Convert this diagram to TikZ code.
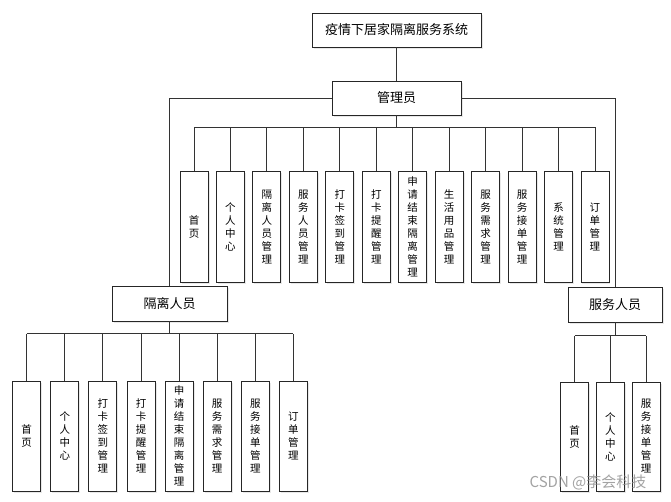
\documentclass[tikz,border=0pt]{standalone}
\usepackage{fontspec}
\newfontfamily\cjk{Noto Sans CJK SC}
\usetikzlibrary{shadows}
\begin{document}
\begin{tikzpicture}[x=1pt,y=-1pt,
  box/.style={draw=black!85,line width=0.9pt,fill=white,inner sep=0pt,
    drop shadow={opacity=0.18,shadow xshift=1.5pt,shadow yshift=-1.5pt}},
  hbox/.style={box,font={\cjk\fontsize{13}{15}\selectfont}},
  vbox/.style={box,font={\cjk\fontsize{10.5}{13}\selectfont},align=center,
    minimum width=28pt,text width=28pt},
  link/.style={draw=black!80,line width=0.9pt}]
\useasboundingbox (0,0) rectangle (671,501);
\fill[white] (0,0) rectangle (671,501);

% top
\node[hbox,minimum width=169pt,minimum height=34pt] (root) at (396.5,30) {疫情下居家隔离服务系统};
\node[hbox,minimum width=129pt,minimum height=34pt] (adm) at (396.5,98) {管理员};
\node[hbox,minimum width=115pt,minimum height=35pt] (iso) at (169.5,303.5) {隔离人员};
\node[hbox,minimum width=94pt,minimum height=35pt] (srv) at (615,304.5) {服务人员};

\draw[link] (root) -- (adm);
\draw[link] (adm.west) -| (iso.north);
\draw[link] (adm.east) -| (srv.north);

% admin children
\foreach \i/\t in {0/{首\\页},1/{个\\人\\中\\心},2/{隔\\离\\人\\员\\管\\理},3/{服\\务\\人\\员\\管\\理},
  4/{打\\卡\\签\\到\\管\\理},5/{打\\卡\\提\\醒\\管\\理},6/{申\\请\\结\\束\\隔\\离\\管\\理},
  7/{生\\活\\用\\品\\管\\理},8/{服\\务\\需\\求\\管\\理},9/{服\\务\\接\\单\\管\\理},
  10/{系\\统\\管\\理},11/{订\\单\\管\\理}}{
  \node[vbox,minimum height=111pt] (a\i) at ({194+36.45*\i},227) {\t};
  \draw[link] (a\i.north) -- ++(0,-44) coordinate (ab\i);
}
\draw[link] (ab0) -- (ab11);
\draw[link] (adm.south) -- (adm.south |- ab0);

% isolation children
\foreach \i/\t in {0/{首\\页},1/{个\\人\\中\\心},2/{打\\卡\\签\\到\\管\\理},3/{打\\卡\\提\\醒\\管\\理},
  4/{申\\请\\结\\束\\隔\\离\\管\\理},5/{服\\务\\需\\求\\管\\理},6/{服\\务\\接\\单\\管\\理},7/{订\\单\\管\\理}}{
  \node[vbox,minimum height=110pt] (b\i) at ({26.7+38.1*\i},436) {\t};
  \draw[link] (b\i.north) -- ++(0,-47) coordinate (bb\i);
}
\draw[link] (bb0) -- (bb7);
\draw[link] (iso.south) -- (iso.south |- bb0);

% service children
\foreach \i/\t in {0/{首\\页},1/{个\\人\\中\\心},2/{服\\务\\接\\单\\管\\理}}{
  \node[vbox,minimum height=109pt] (c\i) at ({574.7+35.7*\i},436.5) {\t};
  \draw[link] (c\i.north) -- ++(0,-46) coordinate (cb\i);
}
\draw[link] (cb0) -- (cb2);
\draw[link] (srv.south) -- (srv.south |- cb0);

% watermark
\node[font={\cjk\fontsize{15}{17}\selectfont},text=black!45,opacity=0.8,inner sep=0pt] (wm) at (588,482) {CSDN @李会科技};
\end{tikzpicture}
\end{document}
